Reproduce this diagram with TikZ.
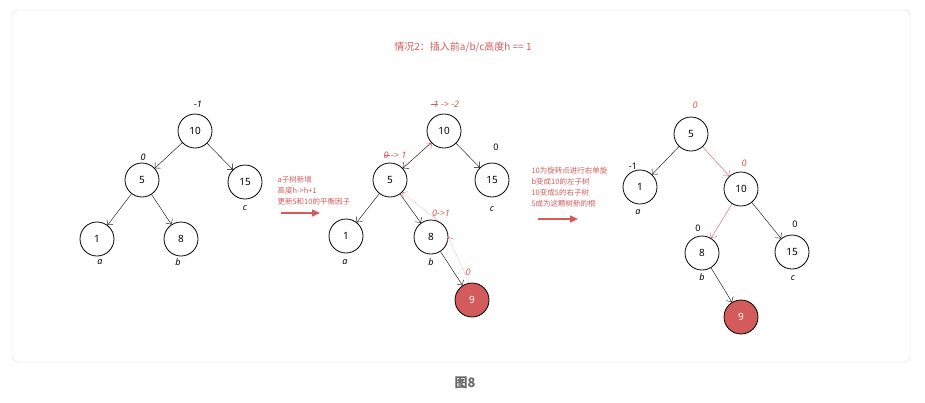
\documentclass[tikz,border=0pt]{standalone}
\usepackage{fontspec}
\setmainfont{Noto Sans}
\newfontfamily\cjk{Noto Sans CJK SC}
\usetikzlibrary{arrows.meta}
\definecolor{rd}{HTML}{D35B5B}
\begin{document}
\begin{tikzpicture}[x=1pt,y=-1pt,
 nd/.style={circle,draw,thick,minimum size=34pt,inner sep=0pt,font=\fontsize{10}{10}\selectfont},
 hot/.style={nd,fill=rd,text=white},
 ar/.style={-{Straight Barb[length=4pt]},thin},
 rar/.style={ar,rd},
 dar/.style={-{Straight Barb[length=4pt]},rd,densely dotted},
 lb/.style={font=\fontsize{9}{9}\selectfont\itshape},
 bf/.style={font=\fontsize{9}{9}\selectfont},
 rt/.style={font=\cjk\fontsize{7.5}{11}\selectfont\itshape,text=rd,align=left,anchor=west}]
\useasboundingbox (0,0) rectangle (925,402);
\draw[gray!30,rounded corners=6pt] (12,10) rectangle (910,362);
\node[font=\cjk\fontsize{10}{10}\selectfont,text=rd] (title) at (463,47) {情况2：插入前a/b/c高度h == 1};
\node[font=\cjk\bfseries\fontsize{13}{13}\selectfont,text=gray!80!black] (cap) at (465,383) {图8};
% tree 1
\node[nd] (a10) at (195,131) {10};
\node[nd] (a5) at (142,180) {5};
\node[nd] (a15) at (245,182) {15};
\node[nd] (a1) at (97,239) {1};
\node[nd] (a8) at (181,239) {8};
\draw[ar] (a10) -- (a5); \draw[ar] (a10) -- (a15);
\draw[ar] (a5) -- (a1); \draw[ar] (a5) -- (a8);
\node[lb] (l1) at (198,104) {-1};
\node[lb] (l2) at (143,157) {0};
\node[lb] (l3) at (245,208) {c};
\node[lb] (l4) at (100,262) {a};
\node[lb] (l5) at (178,262) {b};
% text 1
\node[rt] (t1) at (274,191) {a子树新增\\高度h->h+1\\更新5和10的平衡因子};
\coordinate (p1) at (281,213); \coordinate (p2) at (320,213);
\draw[rd,line width=1.5pt,-{Triangle[length=8pt,width=7pt]}] (p1) -- (p2);
% tree 2
\node[nd] (b10) at (444,131) {10};
\node[nd] (b5) at (390,180) {5};
\node[nd] (b15) at (492,180) {15};
\node[nd] (b1) at (346,236) {1};
\node[nd] (b8) at (431,237) {8};
\node[hot] (b9) at (472,300) {9};
\draw[ar] (b10) -- (b5); \draw[ar] (b10) -- (b15);
\draw[ar] (b5) -- (b1); \draw[ar] (b5) -- (b8); \draw[ar] (b8) -- (b9);
\draw[dar] (b5.north east) -- (b10.south west);
\draw[dar] (b8.north east) -- (b5.south east);
\draw[dar] (b9.north) ++(-3,0) -- (b8.east);
\node[lb,text=rd] (m1) at (445,104) {\rlap{\raisebox{3pt}{\rule{7pt}{0.5pt}}}-1 -> -2};
\node[lb,text=rd] (m2) at (395,155) {\rlap{\raisebox{3pt}{\rule{6pt}{0.5pt}}}0 -> 1};
\node[lb,text=rd] (m3) at (441,213) {0->1};
\node[lb,text=rd] (m4) at (468,272) {0};
\node[bf] (m5) at (496,147) {0};
\node[lb] (m6) at (345,262) {a};
\node[lb] (m7) at (431,262) {b};
\node[lb] (m8) at (492,209) {c};
% text 2
\node[rt] (t2) at (528,187) {10为旋转点进行右单旋\\b变成10的左子树\\10变成5的右子树\\5成为这颗树新的根};
\coordinate (q1) at (538,219); \coordinate (q2) at (578,219);
\draw[rd,line width=1.5pt,-{Triangle[length=8pt,width=7pt]}] (q1) -- (q2);
% tree 3
\node[nd] (c5) at (691,134) {5};
\node[nd] (c1) at (640,187) {1};
\node[nd] (c10) at (741,189) {10};
\node[nd] (c8) at (702,253) {8};
\node[nd] (c15) at (792,252) {15};
\node[hot] (c9) at (741,317) {9};
\draw[ar] (c5) -- (c1); \draw[rar] (c5) -- (c10);
\draw[rar] (c10) -- (c8); \draw[ar] (c10) -- (c15); \draw[ar] (c8) -- (c9);
\node[lb,text=rd] (n1) at (695,105) {0};
\node[lb,text=rd] (n2) at (744,163) {0};
\node[bf] (n3) at (633,166) {-1};
\node[bf] (n4) at (698,228) {0};
\node[bf] (n5) at (795,224) {0};
\node[lb] (n6) at (638,212) {a};
\node[lb] (n7) at (702,277) {b};
\node[lb] (n8) at (793,278) {c};
\end{tikzpicture}
\end{document}
